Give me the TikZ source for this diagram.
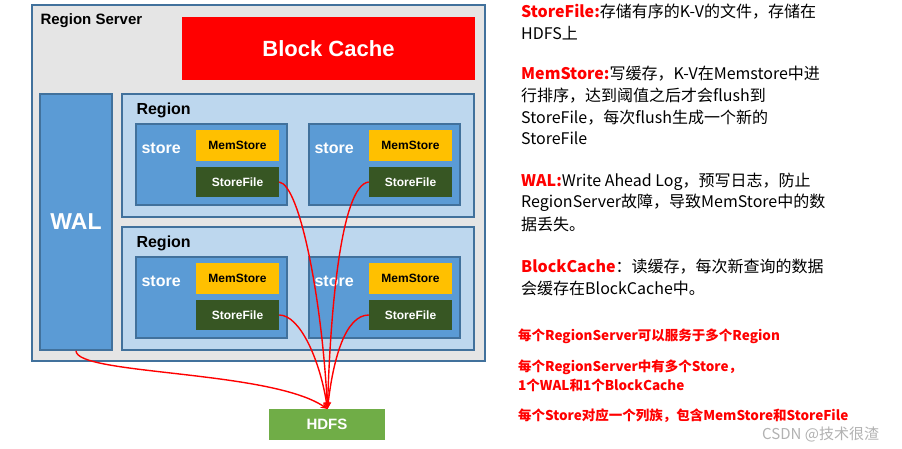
\documentclass[tikz,border=0pt]{standalone}
\usepackage{fontspec}
\setmainfont{Liberation Sans}
\newfontfamily\cjk{Noto Sans CJK SC}
\usetikzlibrary{arrows.meta}
\definecolor{bord}{HTML}{41719C}
\definecolor{midblue}{HTML}{5B9BD5}
\definecolor{lightblue}{HTML}{BDD7EE}
\definecolor{gold}{HTML}{FFC000}
\definecolor{dkgreen}{HTML}{375623}
\definecolor{hgreen}{HTML}{70AD47}
\definecolor{tred}{HTML}{FF0000}
\begin{document}
\begin{tikzpicture}[x=1pt,y=-1pt,
 box/.style={draw=bord,line width=1.5pt},
 mem/.style={fill=gold,inner sep=0pt,font=\bfseries\fontsize{12}{12}\selectfont},
 sf/.style={fill=dkgreen,text=white,inner sep=0pt,font=\bfseries\fontsize{12}{12}\selectfont},
 st/.style={text=white,anchor=west,font=\bfseries\fontsize{16}{16}\selectfont},
 rg/.style={anchor=west,font=\bfseries\fontsize{16}{16}\selectfont},
 flow/.style={draw=tred,line width=1.4pt,-{Stealth[length=7pt,width=6pt]}},
 desc/.style={anchor=west,inner sep=0pt,font=\cjk\fontsize{16}{16}\selectfont},
 note/.style={anchor=west,inner sep=0pt,text=tred,font=\cjk\bfseries\fontsize{13.5}{13.5}\selectfont}]
\useasboundingbox (0,0) rectangle (902,449);
\fill[white] (0,0) rectangle (902,449);
\draw[box,fill=black!10] (32,5) rectangle (485,361);
\node[rg,font=\bfseries\fontsize{15}{15}\selectfont] (rs) at (37,21) {Region Server};
\node[fill=tred,minimum width=293pt,minimum height=63pt,inner sep=0pt,text=white,font=\bfseries\fontsize{22}{22}\selectfont] (bc) at (328.5,48.5) {Block Cache};
\node[box,fill=midblue,minimum width=72pt,minimum height=256pt,inner sep=0pt,text=white,font=\bfseries\fontsize{23}{23}\selectfont] (wal) at (76,222) {WAL};
\foreach \dy/\r in {0/1,133/2}{
 \draw[box,fill=lightblue] (122,94+\dy) rectangle (474,217+\dy);
 \node[rg] (region\r) at (133,110+\dy) {Region};
 \foreach \dx/\s in {0/a,173/b}{
  \draw[box,fill=midblue] (136+\dx,124+\dy) rectangle (287+\dx,205+\dy);
  \node[st] (store\r\s) at (138+\dx,148+\dy) {store};
  \node[mem,minimum width=83pt,minimum height=31pt] (mem\r\s) at (237.5+\dx,145.5+\dy) {MemStore};
  \node[sf,minimum width=83pt,minimum height=30pt] (sf\r\s) at (237.5+\dx,182+\dy) {StoreFile};
 }
}
\node[fill=hgreen,minimum width=116pt,minimum height=31pt,inner sep=0pt,text=white,font=\bfseries\fontsize{15}{15}\selectfont] (hdfs) at (327,424.5) {HDFS};
\coordinate (tip) at (327.5,409);
\draw[flow] (sf1a.east) .. controls (300,185) and (322,300) .. (tip);
\draw[flow] (sf1b.west) .. controls (340,185) and (330,320) .. (tip);
\draw[flow] (sf2a.east) .. controls (300,315) and (320,360) .. (tip);
\draw[flow] (sf2b.west) .. controls (345,315) and (333,360) .. (tip);
\draw[flow] (wal.south) .. controls (76,375) and (270,370) .. (tip);
\node[desc] (d1) at (521,12) {\textcolor{tred}{\bfseries StoreFile:}存储有序的K-V的文件，存储在};
\node[desc] (d2) at (521,33) {HDFS上};
\node[desc] (d3) at (521,74) {\textcolor{tred}{\bfseries MemStore:}写缓存，K-V在Memstore中进};
\node[desc] (d4) at (521,96) {行排序，达到阈值之后才会flush到};
\node[desc] (d5) at (521,118) {StoreFile，每次flush生成一个新的};
\node[desc] (d6) at (521,138) {StoreFile};
\node[desc] (d7) at (521,182) {\textcolor{tred}{\bfseries WAL:}Write Ahead Log，预写日志，防止};
\node[desc] (d8) at (521,203) {RegionServer故障，导致MemStore中的数};
\node[desc] (d9) at (521,224) {据丢失。};
\node[desc] (d10) at (521,267) {\textcolor{tred}{\bfseries BlockCache}：读缓存，每次新查询的数据};
\node[desc] (d11) at (521,288) {会缓存在BlockCache中。};
\node[note] (n1) at (518,336) {每个RegionServer可以服务于多个Region};
\node[note] (n2) at (518,367) {每个RegionServer中有多个Store，};
\node[note] (n3) at (518,385) {1个WAL和1个BlockCache};
\node[note] (n4) at (518,416) {每个Store对应一个列族，包含MemStore和StoreFile};
\node[anchor=west,inner sep=0pt,text=black!30,font=\cjk\fontsize{15}{15}\selectfont] (wm) at (762,434) {CSDN @技术很渣};
\end{tikzpicture}
\end{document}
